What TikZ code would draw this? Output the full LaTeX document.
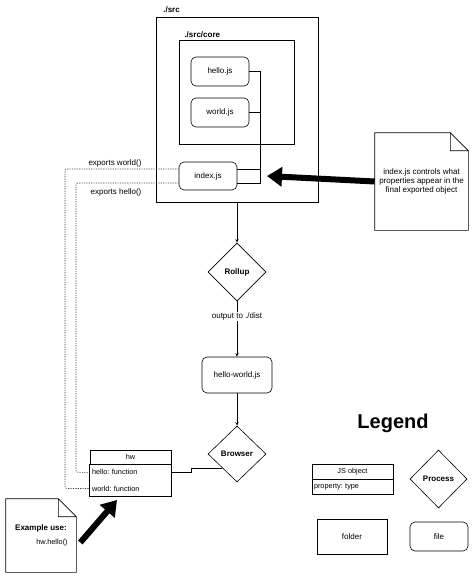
\documentclass[tikz,border=0pt]{standalone}
\usepackage{fontspec}
\setmainfont{Liberation Sans}
\usetikzlibrary{arrows.meta,shapes.geometric,positioning}
\tikzset{>=stealth}
\tikzset{
  every node/.style={font=\fontsize{8}{9}\selectfont},
  folder/.style={draw, inner sep=0pt},
  jsfile/.style={draw, rounded corners=5pt, inner sep=0pt},
  process/.style={draw, diamond, inner sep=0pt, minimum width=58pt,
    minimum height=58pt, font=\fontsize{8}{9}\selectfont\bfseries},
  note/.style={align=center, inner sep=0pt},
  objrow/.style={minimum width=81pt, minimum height=15pt, inner sep=2pt,
    font=\fontsize{7.3}{8}\selectfont},
  export/.style={black!75, dash pattern=on 1.2pt off 1.2pt, rounded corners=2pt},
  bigarrow/.style={line width=6pt, -{Triangle[length=15pt,width=19pt]}}
}
\newcommand*{\dogear}[1]
  {\draw (#1.north west) -- ([xshift=-18pt]#1.north east)
     -- ([yshift=-18pt]#1.north east) -- (#1.south east)
     -- (#1.south west) -- cycle
     ([xshift=-18pt]#1.north east) -- ([shift={(-18pt,-18pt)}]#1.north east)
     -- ([yshift=-18pt]#1.north east)}
\frenchspacing

\begin{document}
\begin{tikzpicture}[x=1pt,y=-1pt,line width=0.6pt]
\useasboundingbox (0,0) rectangle (474,578);
% source folders
\node[folder, minimum width=162pt, minimum height=185pt] (src) at (237,109.5) {};
\node[anchor=south west, font=\fontsize{8}{9}\selectfont\bfseries]
  (srclbl) at ([xshift=4pt]src.north west) {./src};
\node[folder, minimum width=115pt, minimum height=104pt] (core) at (236.5,92) {};
\node[anchor=south west, inner sep=1.5pt, font=\fontsize{8}{9}\selectfont\bfseries]
  (corelbl) at ([xshift=4pt]core.north west) {./src/core};

\node[jsfile, minimum width=58pt, minimum height=29pt] (hello) at (220,71.5) {hello.js};
\node[jsfile, minimum width=58pt, minimum height=29pt] (world) at (220,112.5) {world.js};
\node[jsfile, minimum width=58pt, minimum height=28pt] (index) at (208,176) {index.js};

\coordinate (busTop) at (260,71.5);
\coordinate (busBot) at (260,183);
\draw (hello.east) -- (busTop) -- (busBot) -- ([yshift=-7pt]index.east);
\draw (world.east) -- (world.east -| busTop);
\draw ([yshift=7pt]index.east) -- ([yshift=7pt]index.east -| busTop);

% note on index.js
\node[note, minimum width=93pt, minimum height=97pt] (ctrl) at (421.5,181.5)
  {index.js controls what\\properties appear in the\\final exported object};
\dogear{ctrl};
\coordinate (ctrltip) at (267,176);
\draw[bigarrow] (ctrl.west) -- (ctrltip);

% build flow
\node[process] (rollup) at (237,272) {Rollup};
\draw[->] (src.south) -- (rollup.north);
\node[jsfile, minimum width=70pt, minimum height=36pt] (bundle) at (237,375) {hello-world.js};
\draw[->] (rollup) -- node[pos=0.27, fill=white, inner sep=1pt] (distlbl) {output to ./dist} (bundle);
\node[process, minimum height=56pt] (browser) at (237,454) {Browser};
\draw[->] (bundle) -- (browser);

% the hw object
\node[objrow, draw, minimum height=14pt] (hw) at (130.5,457) {hw};
\node[objrow, below=0pt of hw, text width=77pt, align=left, minimum height=15.5pt]
  (hwhello) {hello: function};
\node[objrow, below=0pt of hwhello, text width=77pt, align=left, minimum height=15.5pt]
  (hwworld) {world: function};
\draw (hwhello.north west) rectangle (hwworld.south east);
\draw (hwhello.east) -- ++(20,0) |- (browser.south west);

% exports
\coordinate (exw) at (65,300);
\coordinate (exh) at (76,300);
\draw[export] ([yshift=7pt]index.west) -| (exw) |- (hwworld.west);
\draw[export] ([yshift=-7pt]index.west) -| (exh) |- (hwhello.west);
\node (expw) at (115,163) {exports world()};
\node (exph) at (116,192) {exports hello()};

% example use
\node[note, minimum width=70pt, minimum height=73pt] (usage) at (41,535.5)
  {\bfseries Example use:\\[5pt]\hspace*{22pt}\fontsize{7.3}{8}\selectfont hw.hello()};
\dogear{usage};
\coordinate (usetip) at (117,500);
\draw[bigarrow] ([shift={(4pt,-7pt)}]usage.east) -- (usetip);

% legend
\node[font=\fontsize{20}{24}\selectfont\bfseries] (legend) at (393,423) {Legend};
\node[objrow, draw] (jsobj) at (352.5,471.5) {JS object};
\node[objrow, draw, below=0pt of jsobj, text width=77pt, align=left] (jsprop) {property: type};
\node[process, minimum width=57pt] (proc) at (438.5,479) {Process};
\node[folder, minimum width=70pt, minimum height=35pt] (fold) at (352,536.5) {folder};
\node[jsfile, minimum width=58pt, minimum height=29pt] (fil) at (439,536.5) {file};
\end{tikzpicture}
\end{document}
